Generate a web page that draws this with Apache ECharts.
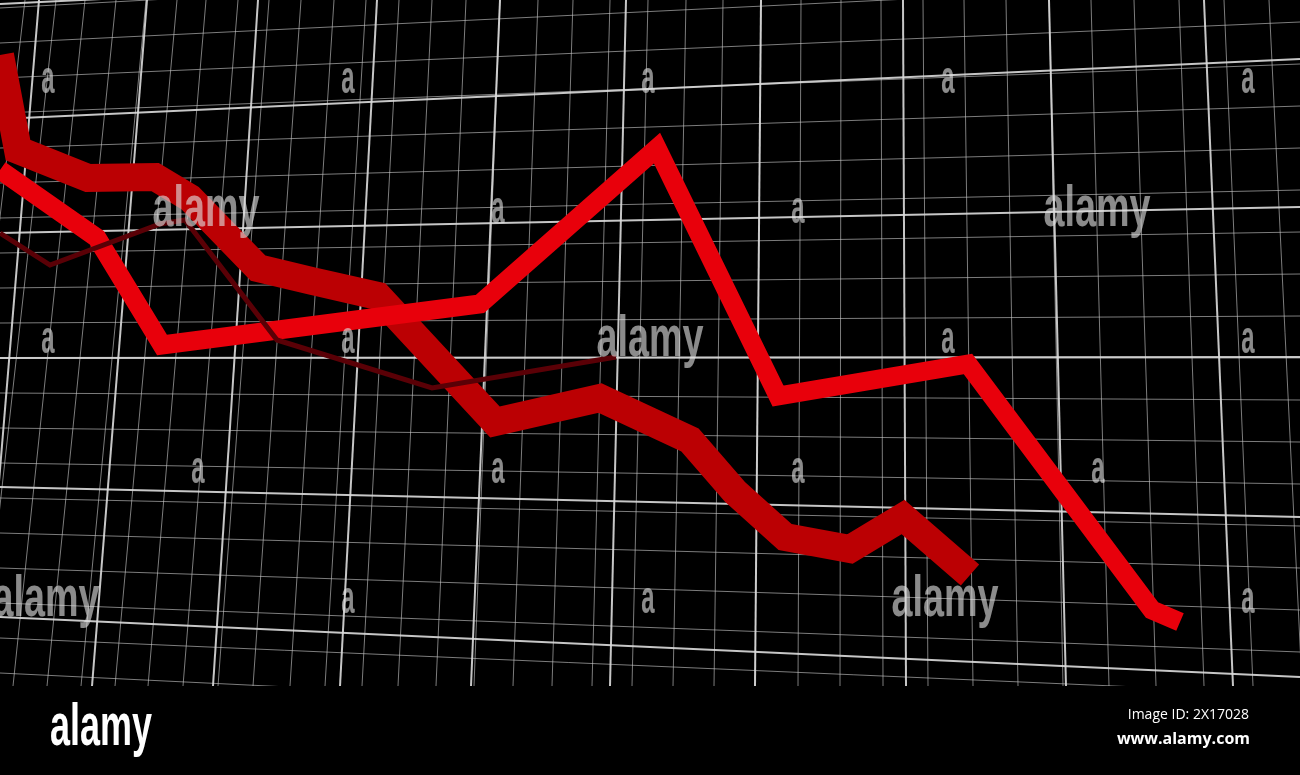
<!DOCTYPE html>
<html>
<head>
<meta charset="utf-8">
<style>
  html, body { margin:0; padding:0; background:#000; }
  #chart { width:1300px; height:775px; }
</style>
<script src="https://cdn.jsdelivr.net/npm/echarts@6/dist/echarts.min.js"></script>
</head>
<body>
<div id="chart"></div>
<script>
// ---- data (in plot units: x 0..1300 left->right, y 0..686 top->bottom) ----
const lineA_x = [0, 97, 162, 480, 657, 778, 968, 1152, 1180];
const lineA_y = [170, 238, 345, 304, 148, 396, 364, 610, 622];

const lineB_x = [0, 18, 88, 155, 190, 258, 312, 378, 495, 600, 690, 735, 785, 850, 903, 970];
const lineB_y = [55, 150, 178, 177, 198, 268, 281, 296, 422, 398, 440, 492, 537, 549, 517, 575];

const lineC_x = [0, 50, 160, 185, 277, 432, 616];
const lineC_y = [233, 265, 224, 220, 340, 388, 357];

// grid lines: vertical [x at top, x at bottom], horizontal [y at left, y at right]
const majorV = [[39,-18],[147,92],[258,213],[377,340],[500,471],[626,610],[761,755],[903,906],[1049,1066],[1204,1233]];
const minorV = [[-5,-88],[25,-54],[56,-20],[85,13],[116,47],[146,81],[177,115],[206,148],[238,183],[269,218],[301,253],[334,290],[366,325],[399,362],[432,398],[466,436],[500,474],[538,513],[573,552],[610,592],[648,632],[686,673],[723,714],[761,755],[801,798],[841,840],[881,883],[923,928],[964,973],[1006,1018],[1049,1063],[1091,1109],[1134,1156],[1179,1204],[1224,1253],[1269,1302]];
const majorH = [[4,-60],[119,59],[233,207],[358,357],[487,517],[617,677]];
const minorH = [[8,-62],[43,-20],[78,22],[113,64],[148,106],[183,148],[218,190],[253,232],[288,274],[323,316],[358,358],[393,400],[428,442],[463,484],[498,526],[533,568],[568,610],[603,652],[638,694],[673,736]];

const X_MAX = 1300, Y_MAX = 686;

function pts(xs, ys) { return xs.map((x, i) => [x, ys[i]]); }
function vSeg(arr) { return arr.map(d => [d[0], 0, d[1], Y_MAX]); }
function hSeg(arr) { return arr.map(d => [0, d[0], X_MAX, d[1]]); }

function gridSeries(data, color, width, z) {
  return {
    type: 'custom', silent: true, clip: true, z: z,
    encode: { x: [0, 2], y: [1, 3] },
    data: data,
    renderItem: function (params, api) {
      const p1 = api.coord([api.value(0), api.value(1)]);
      const p2 = api.coord([api.value(2), api.value(3)]);
      return { type: 'line', shape: { x1: p1[0], y1: p1[1], x2: p2[0], y2: p2[1] },
               style: { stroke: color, lineWidth: width } };
    }
  };
}

function redLine(data, color, width, z) {
  return {
    type: 'line', data: data, showSymbol: false, symbol: 'none', silent: true, clip: true, z: z,
    lineStyle: { color: color, width: width, join: 'miter', cap: 'butt', miterLimit: 10 }
  };
}

const wmFill = 'rgba(225,225,225,0.62)';
// watermark positions: [center x, top y]
const bigMarks = [[206,181],[650,311],[1097,181],[46,571],[945,571]];
const smallMarks = [[48,57],[348,57],[648,57],[948,57],[1248,57],
                    [498,187],[798,187],
                    [48,317],[348,317],[948,317],[1248,317],
                    [198,447],[498,447],[798,447],[1098,447],
                    [348,577],[648,577],[1248,577]];

const graphics = [];
bigMarks.forEach(p => graphics.push({ type: 'text', x: p[0], y: p[1], scaleX: 0.65, z: 100, silent: true,
  style: { text: 'alamy', fill: wmFill, font: 'bold 58px "Liberation Sans", Arial, sans-serif', align: 'center', verticalAlign: 'top' } }));
smallMarks.forEach(p => graphics.push({ type: 'text', x: p[0], y: p[1], scaleX: 0.52, z: 100, silent: true,
  style: { text: 'a', fill: wmFill, font: 'bold 46px "Liberation Sans", Arial, sans-serif', align: 'center', verticalAlign: 'top' } }));
graphics.push({ type: 'text', x: 101, y: 698, scaleX: 0.6, z: 100, silent: true,
  style: { text: 'alamy', fill: '#ffffff', font: 'bold 60px "Liberation Sans", Arial, sans-serif', align: 'center', verticalAlign: 'top' } });
graphics.push({ type: 'text', x: 1249, y: 708, z: 100, silent: true,
  style: { text: 'Image ID: 2X17028', fill: '#ffffff', font: '14px "Open Sans", sans-serif', align: 'right', verticalAlign: 'top' } });
graphics.push({ type: 'text', x: 1250, y: 731, z: 100, silent: true,
  style: { text: 'www.alamy.com', fill: '#ffffff', font: 'bold 16px "Open Sans", sans-serif', align: 'right', verticalAlign: 'top' } });

const chart = echarts.init(document.getElementById('chart'), null, { renderer: 'canvas' });
chart.setOption({
  backgroundColor: '#000000',
  animation: false,
  grid: { left: 0, right: 0, top: 0, bottom: 775 - Y_MAX },
  xAxis: { type: 'value', min: 0, max: X_MAX, show: false, splitLine: { show: false } },
  yAxis: { type: 'value', min: 0, max: Y_MAX, inverse: true, show: false, splitLine: { show: false } },
  series: [
    gridSeries(vSeg(minorV), 'rgba(200,200,200,0.62)', 1, 1),
    gridSeries(hSeg(minorH), 'rgba(200,200,200,0.62)', 1, 1),
    gridSeries(vSeg(majorV), 'rgba(220,220,220,0.9)', 2, 2),
    gridSeries(hSeg(majorH), 'rgba(220,220,220,0.9)', 2, 2),
    redLine(pts(lineB_x, lineB_y), '#bb0003', 28, 3),
    redLine(pts(lineA_x, lineA_y), '#e8000b', 19, 4),
    redLine(pts(lineC_x, lineC_y), '#5a0006', 5, 5)
  ],
  graphic: graphics
});
</script>
</body>
</html>
